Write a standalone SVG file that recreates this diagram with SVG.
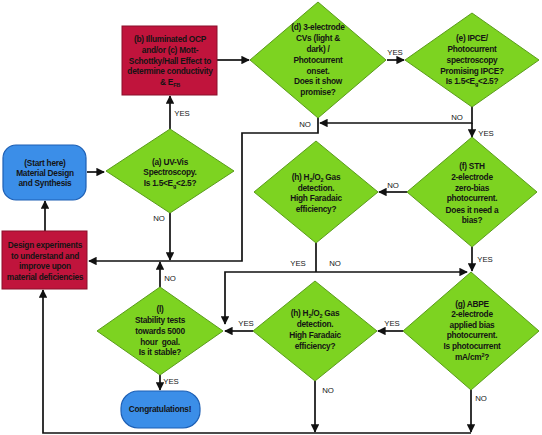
<svg xmlns="http://www.w3.org/2000/svg" width="542" height="435" viewBox="0 0 542 435">
<style>
.dia{fill:#7dd321;stroke:#5a9c1b;stroke-width:1}
.red{fill:#c0143c;stroke:#8a0e2a;stroke-width:1}
.blue{fill:#3b8ee8;stroke:#1d5fb4;stroke-width:1.2}
text{font-family:"Liberation Sans",Arial,sans-serif;font-size:8.3px;fill:#141414;text-anchor:middle;font-weight:bold;letter-spacing:-0.25px}
.lbl{font-size:7.8px;font-weight:normal;letter-spacing:0}
.con path{fill:none;stroke:#111;stroke-width:1.7}
</style>
<defs>
<marker id="ah" viewBox="0 0 10 10" refX="9" refY="5" markerWidth="5" markerHeight="5" orient="auto" markerUnits="strokeWidth">
<path d="M0,0 L10,5 L0,10 z" fill="#111"/>
</marker>
</defs>
<g class="con">
<path d="M217,60 H249" marker-end="url(#ah)"/>
<path d="M387,60 H404" marker-end="url(#ah)"/>
<path d="M472,106 V123 H320" marker-end="url(#ah)"/>
<path d="M318,117 V133 H242 V261 H89" marker-end="url(#ah)"/>
<path d="M472,123 V137" marker-end="url(#ah)"/>
<path d="M407,192 H379" marker-end="url(#ah)"/>
<path d="M472,247 V271" marker-end="url(#ah)"/>
<path d="M316,243 V272"/>
<path d="M316,272 H467" marker-end="url(#ah)"/>
<path d="M316,272 H225 V324" marker-end="url(#ah)"/>
<path d="M403,331 H378" marker-end="url(#ah)"/>
<path d="M253,331 H225" marker-end="url(#ah)"/>
<path d="M315,381 V432" marker-end="url(#ah)"/>
<path d="M471,390 V432" marker-end="url(#ah)"/>
<path d="M471,433 H43 V290" marker-end="url(#ah)"/>
<path d="M160,375 V390" marker-end="url(#ah)"/>
<path d="M160,287 V262" marker-end="url(#ah)"/>
<path d="M170,213 V260" marker-end="url(#ah)"/>
<path d="M170,129 V96" marker-end="url(#ah)"/>
<path d="M87,172 H104" marker-end="url(#ah)"/>
<path d="M45,231 V201" marker-end="url(#ah)"/>
<text class="lbl" x="395" y="55">YES</text>
<text class="lbl" x="457" y="120">NO</text>
<text class="lbl" x="305" y="127">NO</text>
<text class="lbl" x="486" y="136">YES</text>
<text class="lbl" x="393" y="188">NO</text>
<text class="lbl" x="485" y="262">YES</text>
<text class="lbl" x="298" y="266">YES</text>
<text class="lbl" x="335" y="266">NO</text>
<text class="lbl" x="392" y="326">YES</text>
<text class="lbl" x="246" y="326">YES</text>
<text class="lbl" x="328" y="393">NO</text>
<text class="lbl" x="481" y="401">NO</text>
<text class="lbl" x="171" y="384">YES</text>
<text class="lbl" x="170" y="281">NO</text>
<text class="lbl" x="159" y="221">NO</text>
<text class="lbl" x="182" y="116">YES</text>
</g>
<g id="nodeB">
<rect class="red" x="122" y="26" width="95" height="69"/>
<text x="170" y="42">(b) Illuminated OCP</text>
<text x="170" y="53">and/or (c) Mott-</text>
<text x="170" y="64">Schottky/Hall Effect to</text>
<text x="170" y="74">determine conductivity</text>
<text x="170" y="85">&amp; E<tspan font-size="5.5px" dy="2">FB</tspan></text>
</g>
<g id="nodeD">
<polygon class="dia" points="318,2 386,60 318,118 250,60"/>
<text x="318" y="30">(d) 3-electrode</text>
<text x="318" y="41">CVs (light &amp;</text>
<text x="318" y="52">dark) /</text>
<text x="318" y="63">Photocurrent</text>
<text x="318" y="74">onset.</text>
<text x="318" y="84">Does it show</text>
<text x="318" y="95">promise?</text>
</g>
<g id="nodeE">
<polygon class="dia" points="472,13 539,60 472,107 405,60"/>
<text x="472" y="41">(e) IPCE/</text>
<text x="472" y="52">Photocurrent</text>
<text x="472" y="63">spectroscopy</text>
<text x="472" y="74">Promising IPCE?</text>
<text x="472" y="84">Is 1.5&lt;E<tspan font-size="5.5px" dy="2">g</tspan><tspan dy="-2">&lt;2.5?</tspan></text>
</g>
<g id="nodeA">
<polygon class="dia" points="170,129 234,171 170,213 106,171"/>
<text x="170" y="165">(a) UV-Vis</text>
<text x="170" y="175">Spectroscopy.</text>
<text x="170" y="186">Is 1.5&lt;E<tspan font-size="5.5px" dy="2">g</tspan><tspan dy="-2">&lt;2.5?</tspan></text>
</g>
<g id="nodeStart">
<rect class="blue" x="3" y="145" width="83" height="55" rx="13" ry="13"/>
<text x="45" y="166">(Start here)</text>
<text x="45" y="176">Material Design</text>
<text x="45" y="186">and Synthesis</text>
</g>
<g id="nodeDesign">
<rect class="red" x="2" y="231" width="85" height="58"/>
<text x="45" y="248">Design experiments</text>
<text x="45" y="259">to understand and</text>
<text x="45" y="269">improve upon</text>
<text x="45" y="280">material deficiencies</text>
</g>
<g id="nodeH1">
<polygon class="dia" points="316,141 378,192 316,243 254,192"/>
<text x="316" y="180">(h) H<tspan font-size="5.5px" dy="2">2</tspan><tspan dy="-2">/O</tspan><tspan font-size="5.5px" dy="2">2</tspan><tspan dy="-2"> Gas</tspan></text>
<text x="316" y="191">detection.</text>
<text x="316" y="201">High Faradaic</text>
<text x="316" y="212">efficiency?</text>
</g>
<g id="nodeF">
<polygon class="dia" points="472,137 537,192 472,247 407,192"/>
<text x="472" y="169">(f) STH</text>
<text x="472" y="180">2-electrode</text>
<text x="472" y="191">zero-bias</text>
<text x="472" y="201">photocurrent.</text>
<text x="472" y="213">Does it need a</text>
<text x="472" y="223">bias?</text>
</g>
<g id="nodeL">
<polygon class="dia" points="160,287 223,331 160,375 97,331"/>
<text x="160" y="312">(l)</text>
<text x="160" y="323">Stability tests</text>
<text x="160" y="334">towards 5000</text>
<text x="160" y="345" xml:space="preserve">hour  goal.</text>
<text x="160" y="355">Is it stable?</text>
</g>
<g id="nodeH2">
<polygon class="dia" points="315,281 377,331 315,381 253,331"/>
<text x="315" y="316">(h) H<tspan font-size="5.5px" dy="2">2</tspan><tspan dy="-2">/O</tspan><tspan font-size="5.5px" dy="2">2</tspan><tspan dy="-2"> Gas</tspan></text>
<text x="315" y="327">detection.</text>
<text x="315" y="338">High Faradaic</text>
<text x="315" y="349">efficiency?</text>
</g>
<g id="nodeG">
<polygon class="dia" points="471,272 539,331 471,390 403,331"/>
<text x="472" y="307">(g) ABPE</text>
<text x="472" y="317">2-electrode</text>
<text x="472" y="328">applied bias</text>
<text x="472" y="338">photocurrent.</text>
<text x="472" y="349">Is photocurrent</text>
<text x="472" y="360">mA/cm<tspan font-size="5.5px" dy="-3">2</tspan><tspan dy="3">?</tspan></text>
</g>
<g id="nodeCongrats">
<rect class="blue" x="121" y="391" width="79" height="37" rx="17" ry="17"/>
<text x="160" y="412">Congratulations!</text>
</g>
</svg>
